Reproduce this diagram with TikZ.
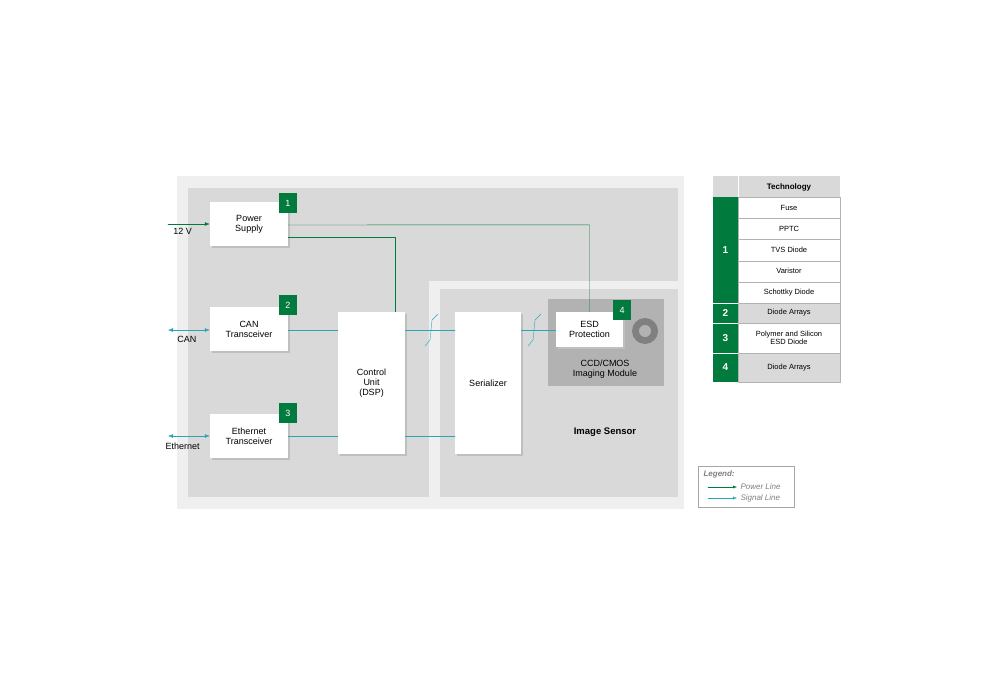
\documentclass[tikz,border=0pt]{standalone}
\usepackage{fontspec}
\setmainfont{Liberation Sans}
\usetikzlibrary{arrows.meta, calc, positioning}
\definecolor{grn}{RGB}{0,122,61}
\definecolor{tea}{RGB}{40,166,184}
\definecolor{bgl}{RGB}{239,239,239}
\definecolor{bgd}{RGB}{217,217,217}
\definecolor{modg}{RGB}{178,178,178}
\begin{document}
\begin{tikzpicture}[x=1pt, y=-1pt, line cap=round, line join=round,
	font=\fontsize{9}{10}\selectfont,
	box/.style={draw=none, fill=white, inner sep=0pt, align=center},
	badge/.style={fill=grn, text=white, inner sep=0pt, minimum width=18pt, minimum height=20pt},
	pwr/.style={draw=grn, thin},
	sig/.style={draw=tea, thin},
	cell/.style={draw=gray!60, fill=white, font=\fontsize{7.5}{8.5}\selectfont, align=center}]
	%Frame
	\useasboundingbox (0,0) rectangle (999,680);
	\fill[bgl] (177,176) rectangle (684,509);
	\fill[bgd] (188,188) rectangle (678,497);
	\fill[bgl] (429,281) rectangle (684,509);
	\fill[bgd] (440,289) rectangle (678,497);
	\fill[modg] (548,299) rectangle (664,386);
	\fill[gray] (645,331) circle (13);
	\fill[modg] (645,331) circle (6);
	
	%Blocks
	\fill[box, black!25] (212,204) rectangle (290,248);
	\node[box, minimum width=78pt, minimum height=44pt] (ps) at (249,224) {Power\\Supply};
	\fill[black!25] (212,309) rectangle (290,353);
	\node[box, minimum width=78pt, minimum height=44pt] (can) at (249,329) {CAN\\Transceiver};
	\fill[black!25] (212,416) rectangle (290,460);
	\node[box, minimum width=78pt, minimum height=44pt] (eth) at (249,436) {Ethernet\\Transceiver};
	\fill[black!25] (340,314) rectangle (407,456);
	\node[box, minimum width=67pt, minimum height=142pt] (cu) at (371.5,383) {Control\\Unit\\(DSP)};
	\fill[black!25] (457,314) rectangle (523,456);
	\node[box, minimum width=66pt, minimum height=142pt] (ser) at (488,383) {Serializer};
	\fill[black!25] (558,314) rectangle (625,349);
	\node[box, minimum width=67pt, minimum height=35pt] (esd) at (589.5,329.5) {ESD\\Protection};
	\node[align=center] (ccd) at (605,369) {CCD/CMOS\\Imaging Module};
	\node[font=\fontsize{9.5}{10}\selectfont\bfseries] (isen) at (605,432) {Image Sensor};
	
	%Badges
	\node[badge] (b1) at (288,203) {1};
	\node[badge] (b2) at (288,305) {2};
	\node[badge] (b3) at (288,413) {3};
	\node[badge] (b4) at (622,310) {4};
	
	%Power lines
	\coordinate (vin) at (168,224);
	\draw[pwr, -{Latex[length=5pt]}] (vin) -- (ps.west |- vin) node[pos=0.35, below=1pt, text=black] {12 V};
	\draw[pwr] ($(ps.east)+(0,1)$) -- ($(esd.north)+(0,-87)$) -- (esd.north);
	\draw[pwr] ($(ps.east)+(0,13)$) -| ($(cu.north)+(23.5,0)$);
	
	%Signal lines
	\coordinate (canin) at (168,330);
	\coordinate (ethin) at (168,436);
	\draw[sig, {Latex[length=5pt]}-{Latex[length=5pt]}] (canin) -- (can.west |- canin) node[pos=0.45, below=3pt, text=black] {CAN};
	\draw[sig, {Latex[length=5pt]}-{Latex[length=5pt]}] (ethin) -- (eth.west |- ethin) node[pos=0.35, below=3pt, text=black] {Ethernet};
	\draw[sig] (can.east |- canin) -- (cu.west |- canin);
	\draw[sig] (cu.east |- canin) -- (ser.west |- canin);
	\draw[sig] (ser.east |- canin) -- (esd.west |- canin);
	\draw[sig] (eth.east |- ethin) -- (cu.west |- ethin);
	\draw[sig] (cu.east |- ethin) -- (ser.west |- ethin);
	%Bus marks
	\draw[sig] (425,346) -- (430,340) -- (432,320) -- (438,314);
	\draw[sig] (528,346) -- (533,340) -- (535,320) -- (541,314);
	
	%Table
	\fill[bgd] (713,176) rectangle (840,197);
	\draw[white, thick] (738,176) -- (738,197);
	\node[font=\fontsize{8}{9}\selectfont\bfseries] (thead) at (789,187) {Technology};
	\foreach \txt [count=\i] in {Fuse, PPTC, TVS Diode, Varistor, Schottky Diode}
		\node[cell, minimum width=102pt, minimum height=21.2pt, inner sep=0pt] (r\i) at (789,{186.5+21.2*\i}) {\txt};
	\node[cell, fill=bgd, minimum width=102pt, minimum height=20pt, inner sep=0pt] (r6) at (789,313) {Diode Arrays};
	\node[cell, minimum width=102pt, minimum height=30pt, inner sep=0pt] (r7) at (789,338) {Polymer and Silicon\\ESD Diode};
	\node[cell, fill=bgd, minimum width=102pt, minimum height=29pt, inner sep=0pt] (r8) at (789,367.5) {Diode Arrays};
	\fill[grn] (713,197) rectangle (738,382);
	\draw[white, thick] (713,303) -- (738,303) (713,323) -- (738,323) (713,353) -- (738,353);
	\node[text=white, font=\bfseries] (t1) at (725.5,250) {1};
	\node[text=white, font=\bfseries] (t2) at (725.5,313) {2};
	\node[text=white, font=\bfseries] (t3) at (725.5,338) {3};
	\node[text=white, font=\bfseries] (t4) at (725.5,367.5) {4};
	
	%Legend
	\draw[gray!70, fill=white] (698,466) rectangle (794,507);
	\node[anchor=west, text=gray, font=\fontsize{8}{9}\selectfont\itshape\bfseries] (lg) at (700,474) {Legend:};
	\coordinate (lp) at (708,487);
	\coordinate (ls) at (708,498);
	\draw[pwr, -{Latex[length=4pt]}] (lp) -- ++(29,0) node[right, text=gray, font=\fontsize{8}{9}\selectfont\itshape] {Power Line};
	\draw[sig, -{Latex[length=4pt]}] (ls) -- ++(29,0) node[right, text=gray, font=\fontsize{8}{9}\selectfont\itshape] {Signal Line};
\end{tikzpicture}
\end{document}
